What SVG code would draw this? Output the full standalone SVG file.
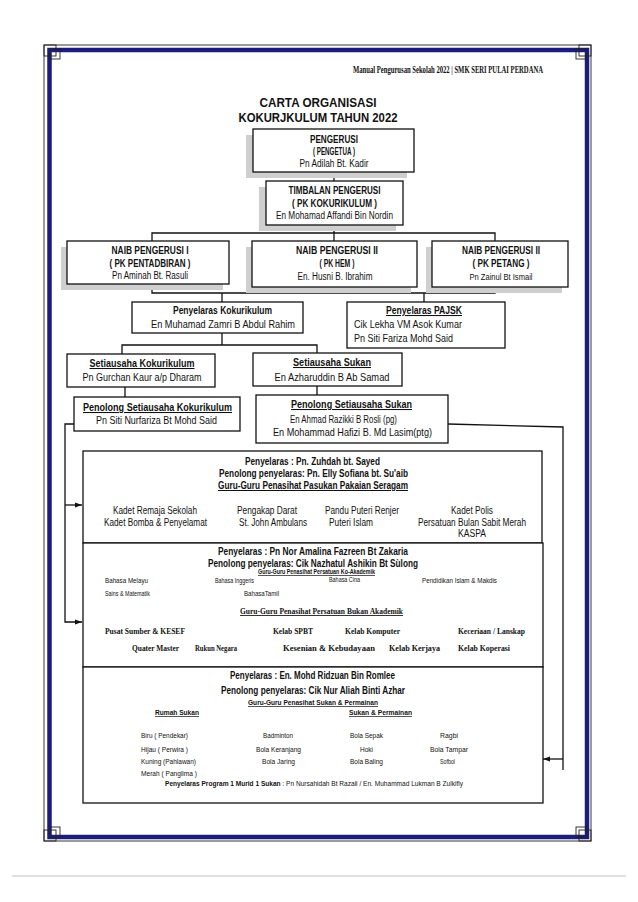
<svg xmlns="http://www.w3.org/2000/svg" width="638" height="902" viewBox="0 0 638 902">
<defs>
<style>
text{font-family:"Liberation Sans Narrow","Liberation Sans",Arial,sans-serif;fill:#111;}
.b{font-weight:bold;}
.u{text-decoration:underline;}
.m{text-anchor:middle;}
.sf{font-family:"Liberation Serif","Times New Roman",serif;}
.box{fill:#fff;stroke:#111;stroke-width:1.3;}
.sh{fill:#cfcfcf;}
.ln{fill:none;stroke:#111;stroke-width:1.3;}
.bd{fill:none;stroke:#1c1c7c;stroke-width:4.5;}
.bt{fill:none;stroke:#222;stroke-width:0.9;}
</style>
<marker id="ar" markerWidth="8" markerHeight="8" refX="7" refY="4" orient="auto" markerUnits="userSpaceOnUse">
<path d="M0,1.5 L7,4 L0,6.5 Z" fill="#111"/>
</marker>
</defs>
<rect width="638" height="902" fill="#fff"/>
<g id="page-border">
<rect class="bt" x="44" y="45" width="547" height="796"/>
<rect class="bd" x="49.5" y="50" width="537.5" height="787"/>
<rect class="bt" x="44" y="45" width="12" height="11"/>
<rect class="bt" x="50" y="49" width="10" height="10"/>
<rect class="bt" x="579" y="45" width="12" height="11"/>
<rect class="bt" x="576" y="49" width="10" height="10"/>
<rect class="bt" x="44" y="830" width="12" height="11"/>
<rect class="bt" x="50" y="827" width="10" height="10"/>
<rect class="bt" x="579" y="830" width="12" height="11"/>
<rect class="bt" x="576" y="827" width="10" height="10"/>
<line x1="12" y1="876" x2="626" y2="876" stroke="#d6d6d6" stroke-width="1.5"/>
</g>
<g id="header">
<text class="sf b" x="353" y="73" font-size="10" textLength="190" lengthAdjust="spacingAndGlyphs">Manual Pengurusan Sekolah 2022 | SMK SERI PULAI PERDANA</text>
<text class="b m" x="318" y="107" font-size="13.5" textLength="117" lengthAdjust="spacingAndGlyphs">CARTA ORGANISASI</text>
<text class="b m" x="318" y="122" font-size="13.5" textLength="159" lengthAdjust="spacingAndGlyphs">KOKURJKULUM TAHUN 2022</text>
</g>
<g id="connectors">
<polyline class="ln" points="334,172 334,181"/>
<polyline class="ln" points="334,225 334,241"/>
<polyline class="ln" points="152,241 152,233 495,233 495,241"/>
<polyline class="ln" points="152,284 152,293 495,293 495,287"/>
<polyline class="ln" points="222,293 222,302"/>
<polyline class="ln" points="424,293 424,302"/>
<polyline class="ln" points="222,333 222,345"/>
<polyline class="ln" points="122,354 122,345 317,345 317,353"/>
<polyline class="ln" points="125,387 125,397"/>
<polyline class="ln" points="317,386 317,395"/>
<polyline class="ln" points="74,424 65,424 65,622 82,622" marker-end="url(#ar)"/>
<polyline class="ln" points="65,505 82,505" marker-end="url(#ar)"/>
<polyline class="ln" points="448,424 563,427 563,770"/>
<polyline class="ln" points="563,759 543,759" marker-end="url(#ar)"/>
</g>
<g id="pengerusi">
<rect class="sh" x="246" y="135" width="161" height="43"/>
<rect class="box" x="253" y="129" width="161" height="43"/>
<text class="b m" x="334" y="143" font-size="10.5" textLength="48" lengthAdjust="spacingAndGlyphs">PENGERUSI</text>
<text class="b m" x="334" y="155" font-size="10.5" textLength="42" lengthAdjust="spacingAndGlyphs">( PENGETUA )</text>
<text class="m" x="334" y="167" font-size="10.5" textLength="69" lengthAdjust="spacingAndGlyphs">Pn Adilah Bt. Kadir</text>
</g>
<g id="timbalan">
<rect class="sh" x="259" y="187" width="137" height="44"/>
<rect class="box" x="266" y="181" width="137" height="44"/>
<text class="b m" x="334.5" y="194" font-size="10.5" textLength="92" lengthAdjust="spacingAndGlyphs">TIMBALAN PENGERUSI</text>
<text class="b m" x="334.5" y="207" font-size="10.5" textLength="85" lengthAdjust="spacingAndGlyphs">( PK KOKURIKULUM )</text>
<text class="m" x="334.5" y="219" font-size="10.5" textLength="117" lengthAdjust="spacingAndGlyphs">En Mohamad Affandi Bin Nordin</text>
</g>
<g id="naib1">
<rect class="sh" x="61" y="247" width="162" height="43"/>
<rect class="box" x="67" y="241" width="162" height="43"/>
<text class="b m" x="150" y="254" font-size="10" textLength="77" lengthAdjust="spacingAndGlyphs">NAIB PENGERUSI I</text>
<text class="b m" x="150" y="267" font-size="10" textLength="81" lengthAdjust="spacingAndGlyphs">( PK PENTADBIRAN )</text>
<text class="m" x="150" y="279" font-size="10" textLength="76" lengthAdjust="spacingAndGlyphs">Pn Aminah Bt. Rasuli</text>
</g>
<g id="naib2-hem">
<rect class="sh" x="246" y="247" width="165" height="46"/>
<rect class="box" x="252" y="241" width="165" height="46"/>
<text class="b m" x="337" y="254" font-size="10" textLength="82" lengthAdjust="spacingAndGlyphs">NAIB PENGERUSI II</text>
<text class="b m" x="337" y="267" font-size="10" textLength="35" lengthAdjust="spacingAndGlyphs">( PK HEM )</text>
<text class="m" x="335" y="280" font-size="10" textLength="75" lengthAdjust="spacingAndGlyphs">En. Husni B. Ibrahim</text>
</g>
<g id="naib2-petang">
<rect class="sh" x="426" y="247" width="136" height="46"/>
<rect class="box" x="432" y="241" width="136" height="46"/>
<text class="b m" x="501" y="254" font-size="10" textLength="78" lengthAdjust="spacingAndGlyphs">NAIB PENGERUSI II</text>
<text class="b m" x="501" y="267" font-size="10" textLength="57" lengthAdjust="spacingAndGlyphs">( PK PETANG )</text>
<text class="m" x="501" y="280" font-size="9" textLength="63" lengthAdjust="spacingAndGlyphs">Pn Zainul Bt Ismail</text>
</g>
<g id="penyelaras-kokurikulum">
<rect class="box" x="132" y="302" width="171" height="31"/>
<text class="b m" x="222.5" y="314" font-size="10.5" textLength="99" lengthAdjust="spacingAndGlyphs">Penyelaras Kokurikulum</text>
<text class="m" x="223" y="328" font-size="10.5" textLength="144" lengthAdjust="spacingAndGlyphs">En  Muhamad Zamri B Abdul Rahim</text>
</g>
<g id="penyelaras-pajsk">
<rect class="box" x="347" y="302" width="158" height="46"/>
<text class="b m u" x="424" y="314" font-size="10.5" textLength="76" lengthAdjust="spacingAndGlyphs">Penyelaras PAJSK</text>
<text x="354" y="328" font-size="10.5" textLength="108" lengthAdjust="spacingAndGlyphs">Cik Lekha VM Asok Kumar</text>
<text x="354" y="342" font-size="10.5" textLength="99" lengthAdjust="spacingAndGlyphs">Pn Siti Fariza Mohd Said</text>
</g>
<g id="setiausaha-kokurikulum">
<rect class="box" x="67" y="354" width="148" height="33"/>
<text class="b m u" x="142" y="367" font-size="10.5" textLength="105" lengthAdjust="spacingAndGlyphs">Setiausaha Kokurikulum</text>
<text class="m" x="142" y="381" font-size="10.5" textLength="119" lengthAdjust="spacingAndGlyphs">Pn Gurchan Kaur a/p Dharam</text>
</g>
<g id="setiausaha-sukan">
<rect class="box" x="253" y="353" width="149" height="33"/>
<text class="b m u" x="332" y="366" font-size="10.5" textLength="78" lengthAdjust="spacingAndGlyphs">Setiausaha Sukan</text>
<text class="m" x="332" y="381" font-size="10.5" textLength="115" lengthAdjust="spacingAndGlyphs">En Azharuddin B  Ab Samad</text>
</g>
<g id="penolong-setiausaha-kokurikulum">
<rect class="box" x="74" y="397" width="166" height="34"/>
<text class="b m u" x="157.5" y="411" font-size="10.5" textLength="149" lengthAdjust="spacingAndGlyphs">Penolong Setiausaha Kokurikulum</text>
<text class="m" x="156.5" y="424" font-size="10.5" textLength="121" lengthAdjust="spacingAndGlyphs">Pn Siti Nurfariza Bt Mohd Said</text>
</g>
<g id="penolong-setiausaha-sukan">
<rect class="box" x="256" y="395" width="192" height="48"/>
<text class="b m u" x="351.5" y="408" font-size="10.5" textLength="121" lengthAdjust="spacingAndGlyphs">Penolong Setiausaha Sukan</text>
<text class="m" x="343.5" y="423" font-size="10.5" textLength="107" lengthAdjust="spacingAndGlyphs">En Ahmad Razikki B Rosli (pg)</text>
<text class="m" x="352.5" y="436" font-size="10.5" textLength="159" lengthAdjust="spacingAndGlyphs">En Mohammad Hafizi B. Md Lasim(ptg)</text>
</g>
<g id="pasukan-pakaian-seragam">
<rect class="box" x="83" y="451" width="459" height="92"/>
<text class="b m" x="312.5" y="465" font-size="10" textLength="135" lengthAdjust="spacingAndGlyphs">Penyelaras : Pn. Zuhdah bt. Sayed</text>
<text class="b m" x="313.5" y="477" font-size="10" textLength="189" lengthAdjust="spacingAndGlyphs">Penolong penyelaras: Pn. Elly Sofiana bt. Su'aib</text>
<text class="b m u" x="313" y="489" font-size="10" textLength="190" lengthAdjust="spacingAndGlyphs">Guru-Guru Penasihat Pasukan Pakaian Seragam</text>
<text class="m" x="155" y="514" font-size="10" textLength="84" lengthAdjust="spacingAndGlyphs">Kadet Remaja Sekolah</text>
<text class="m" x="155.5" y="526" font-size="10" textLength="103" lengthAdjust="spacingAndGlyphs">Kadet Bomba &amp; Penyelamat</text>
<text class="m" x="267" y="514" font-size="10" textLength="60" lengthAdjust="spacingAndGlyphs">Pengakap Darat</text>
<text class="m" x="273" y="526" font-size="10" textLength="68" lengthAdjust="spacingAndGlyphs">St. John Ambulans</text>
<text class="m" x="362" y="514" font-size="10" textLength="74" lengthAdjust="spacingAndGlyphs">Pandu Puteri Renjer</text>
<text x="329" y="526" font-size="10" textLength="44" lengthAdjust="spacingAndGlyphs">Puteri Islam</text>
<text class="m" x="472" y="514" font-size="10" textLength="42" lengthAdjust="spacingAndGlyphs">Kadet Polis</text>
<text class="m" x="472" y="526" font-size="10" textLength="108" lengthAdjust="spacingAndGlyphs">Persatuan Bulan Sabit Merah</text>
<text class="m" x="472" y="537" font-size="10" textLength="28" lengthAdjust="spacingAndGlyphs">KASPA</text>
</g>
<g id="persatuan">
<rect class="box" x="83" y="543" width="460" height="124"/>
<text class="b m" x="313" y="555" font-size="10" textLength="190" lengthAdjust="spacingAndGlyphs">Penyelaras : Pn Nor Amalina Fazreen Bt Zakaria</text>
<text class="b m" x="313" y="567" font-size="10" textLength="210" lengthAdjust="spacingAndGlyphs">Penolong penyelaras: Cik Nazhatul Ashikin Bt Sùlong</text>
<text class="b m u" x="316.5" y="574" font-size="7" textLength="117" lengthAdjust="spacingAndGlyphs">Guru-Guru Penasihat Persatuan Ko-Akademik</text>
<text x="105" y="583" font-size="7" textLength="43" lengthAdjust="spacingAndGlyphs">Bahasa Melayu</text>
<text x="215" y="583" font-size="7" textLength="39" lengthAdjust="spacingAndGlyphs">Bahasa Inggeris</text>
<text x="329" y="582" font-size="7" textLength="31" lengthAdjust="spacingAndGlyphs">Bahasa Cina</text>
<text x="422" y="583" font-size="7" textLength="75" lengthAdjust="spacingAndGlyphs">Pendidikan Islam &amp; Makdis</text>
<text x="105" y="596" font-size="7" textLength="45" lengthAdjust="spacingAndGlyphs">Sains &amp; Matematik</text>
<text x="244" y="596" font-size="7" textLength="35" lengthAdjust="spacingAndGlyphs">BahasaTamil</text>
<text class="sf b m u" x="321.5" y="614" font-size="8.5" textLength="163" lengthAdjust="spacingAndGlyphs">Guru-Guru Penasihat Persatuan Bukan Akademik</text>
<text class="sf b" x="105" y="634" font-size="8.5" textLength="80" lengthAdjust="spacingAndGlyphs">Pusat Sumber &amp; KESEF</text>
<text class="sf b" x="273" y="634" font-size="8.5" textLength="40" lengthAdjust="spacingAndGlyphs">Kelab SPBT</text>
<text class="sf b" x="345" y="634" font-size="8.5" textLength="55" lengthAdjust="spacingAndGlyphs">Kelab Komputer</text>
<text class="sf b" x="458" y="634" font-size="8.5" textLength="67" lengthAdjust="spacingAndGlyphs">Keceriaan / Lanskap</text>
<text class="sf b" x="132" y="651" font-size="8.5" textLength="47" lengthAdjust="spacingAndGlyphs">Quater Master</text>
<text class="sf b" x="195" y="651" font-size="8.5" textLength="42" lengthAdjust="spacingAndGlyphs">Rukun Negara</text>
<text class="sf b" x="283" y="651" font-size="8.5" textLength="92" lengthAdjust="spacingAndGlyphs">Kesenian &amp; Kebudayaan</text>
<text class="sf b" x="389" y="651" font-size="8.5" textLength="51" lengthAdjust="spacingAndGlyphs">Kelab Kerjaya</text>
<text class="sf b" x="458" y="651" font-size="8.5" textLength="52" lengthAdjust="spacingAndGlyphs">Kelab Koperasi</text>
</g>
<g id="sukan-permainan">
<rect class="box" x="83" y="667" width="460" height="136"/>
<text class="b m" x="312.5" y="679" font-size="10.5" textLength="165" lengthAdjust="spacingAndGlyphs">Penyelaras : En. Mohd Ridzuan Bin Romlee</text>
<text class="b m" x="313" y="694" font-size="10.5" textLength="184" lengthAdjust="spacingAndGlyphs">Penolong penyelaras: Cik Nur Aliah Binti Azhar</text>
<text class="b m u" x="313" y="705" font-size="7" textLength="130" lengthAdjust="spacingAndGlyphs">Guru-Guru Penasihat Sukan &amp; Permainan</text>
<text class="b u" x="155" y="715" font-size="7" textLength="44" lengthAdjust="spacingAndGlyphs">Rumah Sukan</text>
<text class="b u" x="349" y="715" font-size="7" textLength="63" lengthAdjust="spacingAndGlyphs">Sukan &amp; Permainan</text>
<text x="141" y="738" font-size="7" textLength="47" lengthAdjust="spacingAndGlyphs">Biru ( Pendekar)</text>
<text x="141" y="752" font-size="7" textLength="47" lengthAdjust="spacingAndGlyphs">Hijau ( Perwira )</text>
<text x="141" y="764" font-size="7" textLength="55" lengthAdjust="spacingAndGlyphs">Kuning (Pahlawan)</text>
<text x="141" y="776" font-size="7" textLength="56" lengthAdjust="spacingAndGlyphs">Merah ( Panglima )</text>
<text class="m" x="278" y="738" font-size="7" textLength="30" lengthAdjust="spacingAndGlyphs">Badminton</text>
<text class="m" x="278.5" y="752" font-size="7" textLength="45" lengthAdjust="spacingAndGlyphs">Bola Keranjang</text>
<text class="m" x="278.5" y="764" font-size="7" textLength="33" lengthAdjust="spacingAndGlyphs">Bola Jaring</text>
<text class="m" x="366.5" y="738" font-size="7" textLength="33" lengthAdjust="spacingAndGlyphs">Bola Sepak</text>
<text class="m" x="366.5" y="752" font-size="7" textLength="13" lengthAdjust="spacingAndGlyphs">Hoki</text>
<text class="m" x="366.5" y="764" font-size="7" textLength="33" lengthAdjust="spacingAndGlyphs">Bola Baling</text>
<text class="m" x="449" y="738" font-size="7" textLength="18" lengthAdjust="spacingAndGlyphs">Ragbi</text>
<text class="m" x="449" y="752" font-size="7" textLength="38" lengthAdjust="spacingAndGlyphs">Bola Tampar</text>
<text class="m" x="447.5" y="764" font-size="7" textLength="15" lengthAdjust="spacingAndGlyphs">Sofbol</text>
<text x="165" y="786" font-size="7" textLength="298" lengthAdjust="spacingAndGlyphs"><tspan class="b">Penyelaras Program 1 Murid 1 Sukan</tspan> : Pn Nursahidah Bt Razali / En. Muhammad Lukman B Zulkifly</text>
</g>
</svg>
